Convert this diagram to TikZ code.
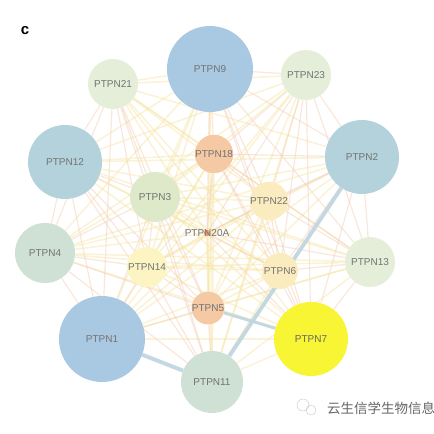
\documentclass[tikz,border=0pt]{standalone}
\usepackage{fontspec}
\setmainfont{Liberation Sans}
\newfontfamily\cjk{Noto Sans CJK SC}
\usepackage{xcolor}
\usepackage{tikz}
\usetikzlibrary{
	backgrounds
}
\definecolor{DeepBlue}{HTML}{A9C9E2}
\definecolor{GreyBlue}{HTML}{B4D2DC}
\definecolor{SageGreen}{HTML}{CFE0D4}
\definecolor{PaleGreen}{HTML}{E4EED8}
\definecolor{LeafGreen}{HTML}{DDE9C9}
\definecolor{Cream}{HTML}{FBECBF}
\definecolor{LightCream}{HTML}{FCF5C3}
\definecolor{Peach}{HTML}{F4C9A4}
\definecolor{Rust}{HTML}{E8956A}
\definecolor{Lemon}{HTML}{F8F534}
\definecolor{EdgeOrange}{HTML}{F0C4A8}
\definecolor{EdgeYellow}{HTML}{F6E4A6}
\definecolor{EdgeBlue}{HTML}{BFD5E2}

\begin{document}
\begin{tikzpicture}[x=1pt, y=-1pt,
		gene/.style={circle, inner sep=0pt, text=black!55, font=\fontsize{10}{10}\selectfont},
		edge/.style={draw=EdgeOrange, opacity=0.4, line width=1.2pt},
		paleedge/.style={draw=EdgeYellow, opacity=0.45, line width=1.6pt},
		strong/.style={draw=EdgeBlue, opacity=0.9, line width=4pt}]
		\useasboundingbox (0,0) rectangle (434,434);
		
		\node[font=\bfseries\fontsize{15}{15}\selectfont] (tag) at (25,31) {c};
		
		% outer ring
		\node[gene, fill=DeepBlue, minimum size=86pt] (p9) at (210,69) {PTPN9};
		\node[gene, fill=PaleGreen, minimum size=50pt] (p21) at (113,84) {PTPN21};
		\node[gene, fill=PaleGreen, minimum size=50pt] (p23) at (306,75) {PTPN23};
		\node[gene, fill=GreyBlue, minimum size=74pt] (p12) at (65,162) {PTPN12};
		\node[gene, fill=GreyBlue, minimum size=74pt] (p2) at (362,157) {PTPN2};
		\node[gene, fill=SageGreen, minimum size=60pt] (p4) at (45,253) {PTPN4};
		\node[gene, fill=PaleGreen, minimum size=50pt] (p13) at (370,262) {PTPN13};
		\node[gene, fill=DeepBlue, minimum size=86pt] (p1) at (102,339) {PTPN1};
		\node[gene, fill=Lemon, minimum size=74pt, text=black!60] (p7) at (311,339) {PTPN7};
		\node[gene, fill=SageGreen, minimum size=62pt] (p11) at (212,382) {PTPN11};
		
		% inner ring
		\node[gene, fill=Peach, minimum size=24pt] (p18) at (214,154) {PTPN18};
		\node[gene, fill=LeafGreen, minimum size=50pt] (p3) at (155,197) {PTPN3};
		\node[gene, fill=Cream, minimum size=36pt] (p22) at (269,201) {PTPN22};
		\node[gene, fill=LightCream, minimum size=40pt] (p14) at (147,267) {PTPN14};
		\node[gene, fill=Cream, minimum size=36pt] (p6) at (280,271) {PTPN6};
		\node[gene, fill=Peach, minimum size=24pt] (p5) at (208,308) {PTPN5};
		\node[circle, fill=Rust, inner sep=0pt, minimum size=6pt] (p20) at (207,233) {};
		\node[text=black!55, font=\fontsize{10}{10}\selectfont] (p20l) at (p20) {PTPN20A};
		
		\def\genes{p9,p21,p23,p12,p2,p4,p13,p1,p7,p11,p18,p3,p22,p14,p6,p5,p20}
		\begin{scope}[on background layer]
			\foreach \a [count=\i] in \genes {
				\foreach \b [count=\j] in \genes {
					\ifnum\j>\i
						\ifodd\numexpr\i+\j\relax \draw[paleedge] (\a) -- (\b);
						\else \draw[edge] (\a) -- (\b); \fi
					\fi
				}
			}
			\draw[strong] (p2) -- (p11);
			\draw[strong] (p1) -- (p11);
			\draw[strong, line width=3pt] (p5) -- (p7);
		\end{scope}
		
		% watermark, cut at the right edge as in the source
		\draw[gray!45, thin] (303,405) circle (6);
		\draw[gray!45, thin] (311,410) circle (5);
		\node[anchor=west, inner sep=0pt, text=black!60, font=\cjk\fontsize{13.5}{13.5}\selectfont] (mark) at (327,408) {云生信学生物信息};
	\end{tikzpicture}
\end{document}
